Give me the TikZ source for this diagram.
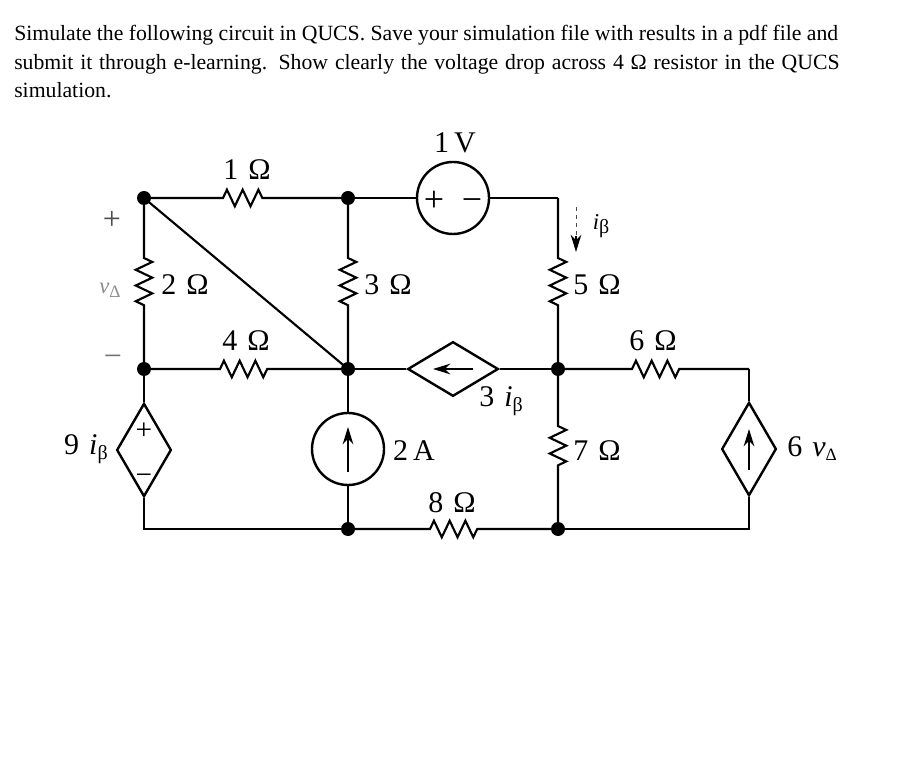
\documentclass[tikz,border=0pt]{standalone}
\usepackage{fontspec}
\setmainfont{Liberation Serif}
\usetikzlibrary{shapes.geometric,decorations.pathmorphing,arrows.meta}
\tikzset{
  x=0.75pt,y=-0.75pt,
  wire/.style={line width=1.6pt,draw=black,line join=miter},
  dot/.style={circle,fill=black,inner sep=0pt,minimum size=10.5pt},
  res/.style 2 args={decorate,decoration={zigzag,amplitude=6.2pt,segment length=11.8pt,pre length=#1*0.75pt,post length=#2*0.75pt}},
  srccirc/.style={circle,draw=black,line width=1.8pt,minimum size=54pt,inner sep=0pt},
  depv/.style={diamond,draw=black,line width=1.8pt,minimum width=41pt,minimum height=70pt,inner sep=0pt},
  depi/.style={diamond,draw=black,line width=1.8pt,minimum width=68pt,minimum height=41pt,inner sep=0pt},
  lab/.style={font=\fontsize{22.5}{26}\selectfont,inner sep=0pt,text=black},
  sgnl/.style={anchor=base,font=\fontsize{27}{30}\selectfont,inner sep=0pt,text=black},
  sgnm/.style={anchor=base,font=\fontsize{22}{26}\selectfont,inner sep=0pt,text=black},
  sgns/.style={anchor=base,font=\fontsize{24}{28}\selectfont,inner sep=0pt},
  ctrl/.style={line width=1.3pt,-{Stealth[length=13pt,width=8pt]},black},
  para/.style={anchor=base west,inner sep=0pt,font=\fontsize{16.3}{20}\selectfont,text=black}
}
\newcommand{\ohm}[1]{#1\,\,Ω}
\newcommand{\ib}{\textit{i}\raisebox{-3.5pt}{\fontsize{15}{15}\selectfont β}}
\newcommand{\vd}{\textit{v}\raisebox{-3pt}{\fontsize{13}{13}\selectfont Δ}}
\begin{document}
\begin{tikzpicture}
\useasboundingbox (0,0) rectangle (906,762);
% text
\node[para] (l1) at (14,41) {\makebox[618pt][s]{Simulate the following circuit in QUCS. Save your simulation file with results in a pdf file and}};
\node[para] (l2) at (14,70) {\makebox[619pt][s]{submit it through e-learning. Show clearly the voltage drop across 4 Ω resistor in the QUCS}};
\node[para] (l3) at (14,98) {simulation.};
% junctions
\node[dot] (A) at (144,198) {};
\node[dot] (B) at (348,198) {};
\node[dot] (C) at (144,369) {};
\node[dot] (D) at (348,369) {};
\node[dot] (E) at (558,369) {};
\node[dot] (F) at (348,529) {};
\node[dot] (G) at (558,529) {};
\coordinate (TR) at (558,198);
\coordinate (RT) at (749,369);
\coordinate (RB) at (749,529);
\coordinate (LB) at (144,529);
% sources
\node[srccirc] (V1) at (453,198) {};
\node[srccirc] (I2) at (348,449) {};
\node[depi] (D3) at (453,369) {};
\node[depv] (D9) at (144,450) {};
\node[depv] (D6) at (749,449) {};
% wires
\draw[wire,res={79}{78}] (A.center) -- (B.center);
\draw[wire,res={60}{63}] (A.center) -- (C.center);
\draw[wire,res={60}{63}] (B.center) -- (D.center);
\draw[wire,res={60}{63}] (TR) -- (E.center);
\draw[wire,res={76}{78}] (C.center) -- (D.center);
\draw[wire,res={74}{66}] (E.center) -- (RT);
\draw[wire,res={57}{57}] (E.center) -- (G.center);
\draw[wire,res={82}{78}] (F.center) -- (G.center);
\draw[wire] (A.center) -- (D.center);
\draw[wire] (B.center) -- (V1.west);
\draw[wire] (V1.east) -- (TR);
\draw[wire] (D.center) -- (D3.west);
\draw[wire] (D3.east) -- (E.center);
\draw[wire] (C.center) -- (D9.north);
\draw[wire] (D9.south) -- (LB) -- (F.center);
\draw[wire] (D.center) -- (I2.north);
\draw[wire] (I2.south) -- (F.center);
\draw[wire] (RT) -- (D6.north);
\draw[wire] (D6.south) -- (RB) -- (G.center);
% arrows in sources
\coordinate (a1) at (348,472); \coordinate (a2) at (348,427);
\draw[ctrl] (a1) -- (a2);
\coordinate (a3) at (473,369); \coordinate (a4) at (433,369);
\draw[ctrl] (a3) -- (a4);
\coordinate (a5) at (749,470); \coordinate (a6) at (749,429);
\draw[ctrl] (a5) -- (a6);
\coordinate (a7) at (576,207); \coordinate (a8) at (576,236); \coordinate (a9) at (576,252);
\draw[line width=0.5pt,dashed,black!70] (a7) -- (a8);
\draw[ctrl,line width=1pt] (a8) -- (a9);
% labels
\node[lab] (t1) at (247,170) {\ohm{1}};
\node[lab] (t2) at (185,285) {\ohm{2}};
\node[lab] (t3) at (388,285) {\ohm{3}};
\node[lab] (t4) at (246,341) {\ohm{4}};
\node[lab] (t5) at (597,285) {\ohm{5}};
\node[lab] (t6) at (653,341) {\ohm{6}};
\node[lab] (t7) at (597,451) {\ohm{7}};
\node[lab] (t8) at (452,503) {\ohm{8}};
\node[lab] (tv) at (455,143) {1\,V};
\node[lab] (ta) at (414,451) {2\,A};
\node[lab] (ti3) at (501,401) {3\,\,\ib};
\node[lab] (ti9) at (86,449) {9\,\,\ib};
\node[lab] (tv6) at (812,449) {6\,\,\vd};
\node[lab,font=\fontsize{17}{20}\selectfont] (tib) at (601,226) {\ib};
\node[lab,text=black!45,font=\fontsize{17}{20}\selectfont] (tvd) at (110,290) {\vd};
\node[sgns,text=black!70] (sp) at (112,230) {+};
\node[sgns,text=black!55] (sm) at (113,367) {−};
\node[sgnl] (v1p) at (434,212) {+};
\node[sgnl] (v1m) at (472,212) {−};
\node[sgnm] (d9p) at (144,440) {+};
\node[sgnm] (d9m) at (144,484) {−};
\end{tikzpicture}
\end{document}
